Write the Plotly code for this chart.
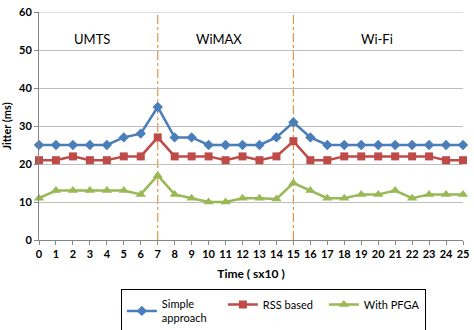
import plotly.graph_objects as go

time = list(range(26))
tick_labels = [str(t) for t in time]
simple = [25, 25, 25, 25, 25, 27, 28, 35, 27, 27, 25, 25, 25, 25, 27, 31, 27, 25, 25, 25, 25, 25, 25, 25, 25, 25]
rss = [21, 21, 22, 21, 21, 22, 22, 27, 22, 22, 22, 21, 22, 21, 22, 26, 21, 21, 22, 22, 22, 22, 22, 22, 21, 21]
pfga = [11, 13, 13, 13, 13, 13, 12, 17, 12, 11, 10, 10, 11, 11, 10.8, 15, 13, 11, 11, 12, 12, 13, 11, 12, 12, 12]
boundaries = [7, 15]
regions = ["UMTS", "WiMAX", "Wi-Fi"]
region_x = [3.15, 10.6, 19.9]
region_y = 52.9

FONT = "Lato"
fig = go.Figure()
fig.add_trace(go.Scatter(x=time, y=simple, name="Simple<br>approach", mode="lines+markers",
                         line=dict(color="#4A7EBB", width=2.5),
                         marker=dict(symbol="diamond", size=8, color="#4A7EBB"), cliponaxis=False))
fig.add_trace(go.Scatter(x=time, y=rss, name="RSS based", mode="lines+markers",
                         line=dict(color="#BE4B48", width=2.5),
                         marker=dict(symbol="square", size=8, color="#BE4B48"), cliponaxis=False))
fig.add_trace(go.Scatter(x=time, y=pfga, name="With PFGA", mode="lines+markers",
                         line=dict(color="#98B954", width=2.5),
                         marker=dict(symbol="triangle-up", size=9, color="#98B954"), cliponaxis=False))

for b in boundaries:
    fig.add_shape(type="line", x0=b, x1=b, xref="x", yref="paper", y0=0, y1=1,
                  line=dict(color="#E0964A", width=1.2, dash="dashdot"), layer="below")

for t, xv in zip(regions, region_x):
    fig.add_annotation(x=xv, y=region_y, text=t, showarrow=False,
                       font=dict(family=FONT, size=13, color="#000000"))

fig.update_layout(
    width=474, height=330,
    margin=dict(l=39, r=8, t=5, b=90),
    plot_bgcolor="white", paper_bgcolor="white",
    font=dict(family=FONT, color="#000000"),
    showlegend=True,
    legend=dict(orientation="h", xref="container", yref="container", x=0.255, y=0.124,
                xanchor="left", yanchor="top", bgcolor="white", bordercolor="#000000",
                borderwidth=1, font=dict(family=FONT, size=11), itemwidth=30,
                entrywidth=56, entrywidthmode="pixels", tracegroupgap=0),
)
fig.update_xaxes(range=[0, 25], tickmode="array", tickvals=time, ticktext=tick_labels,
                 showline=True, linecolor="#868686", linewidth=1, ticks="outside", ticklen=4,
                 tickcolor="#868686", showgrid=False, zeroline=False,
                 tickfont=dict(family=FONT, size=11, color="#000000", weight="bold"),
                 title=dict(text="<b>Time ( sx10 )</b>", font=dict(family=FONT, size=12), standoff=10))
fig.update_yaxes(range=[0, 60], tickmode="array", tickvals=[0, 10, 20, 30, 40, 50, 60],
                 showline=True, linecolor="#868686", linewidth=1,
                 ticks="outside", ticklen=4, tickcolor="#868686", ticklabeloverflow="allow",
                 showgrid=True, gridcolor="#BEBEBE", gridwidth=1, zeroline=False,
                 tickfont=dict(family=FONT, size=11, color="#000000", weight="bold"),
                 title=dict(text="<b>Jitter (ms)</b>", font=dict(family=FONT, size=11), standoff=6))
fig.add_shape(type="line", xref="paper", yref="y", x0=0, x1=1, y0=60, y1=60,
              line=dict(color="#BEBEBE", width=1), layer="below")

fig.write_html("out.html")
